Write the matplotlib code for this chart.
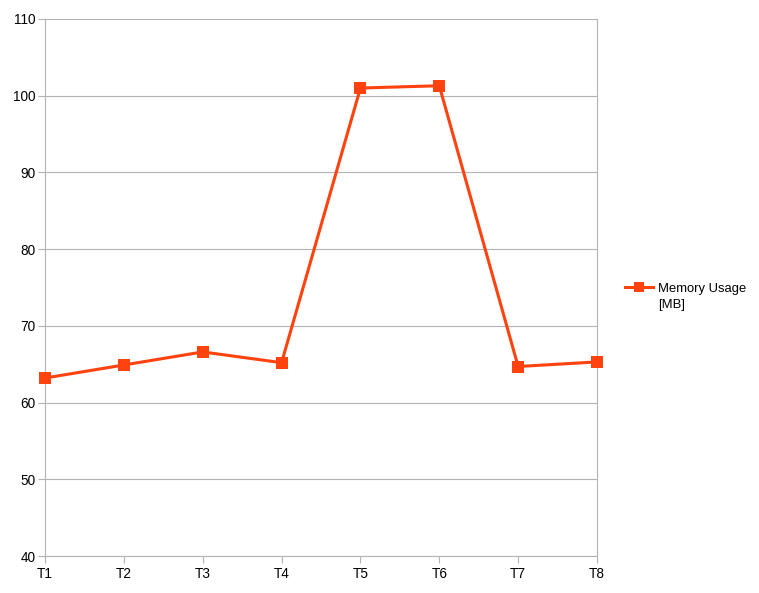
import matplotlib
matplotlib.use("Agg")
import matplotlib.pyplot as plt
from matplotlib.lines import Line2D

categories = ["T1", "T2", "T3", "T4", "T5", "T6", "T7", "T8"]
memory_mb = [63.2, 64.9, 66.6, 65.2, 101.0, 101.3, 64.7, 65.3]
y_ticks = [40, 50, 60, 70, 80, 90, 100, 110]
series_label = "Memory Usage\n[MB]"

plt.rcParams['font.family'] = ['Liberation Sans', 'DejaVu Sans']
color = "#ff420e"
grid_c = "#b3b3b3"

W, H = 759, 593
fig = plt.figure(figsize=(W/100, H/100), dpi=100)
ax = fig.add_axes([45/W, 37/H, 552/W, 537/H])
x = list(range(len(categories)))
ax.plot(x, memory_mb, color=color, linewidth=2.2, marker="s", markersize=8,
        markeredgewidth=0, zorder=3, clip_on=False)
ax.set_xlim(0, len(categories)-1)
ax.set_ylim(40, 110)
ax.set_yticks(y_ticks)
ax.set_xticks(x)
ax.set_xticklabels(categories)
ax.yaxis.grid(True, color=grid_c, linewidth=0.8)
ax.set_axisbelow(True)
for s in ax.spines.values():
    s.set_color(grid_c)
    s.set_linewidth(0.8)
ax.spines['top'].set_visible(False)
ax.tick_params(axis='both', colors=grid_c, labelcolor='black', labelsize=9.8,
               length=5, width=0.8, direction='out')
ax.tick_params(axis='x', pad=3)
ax.tick_params(axis='y', pad=2)

# legend (symbol aligned with first text line, as in the reference)
ly = 1 - 287/H
fig.add_artist(Line2D([625/W, 653/W], [ly, ly], transform=fig.transFigure,
                      color=color, linewidth=2.2))
fig.add_artist(Line2D([639/W], [ly], transform=fig.transFigure, color=color,
                      marker="s", markersize=7, markeredgewidth=0))
fig.text(658/W, 1 - 283/H, series_label, ha='left', va='top', fontsize=9.4,
         linespacing=1.45)

fig.savefig("out.png", dpi=100)
